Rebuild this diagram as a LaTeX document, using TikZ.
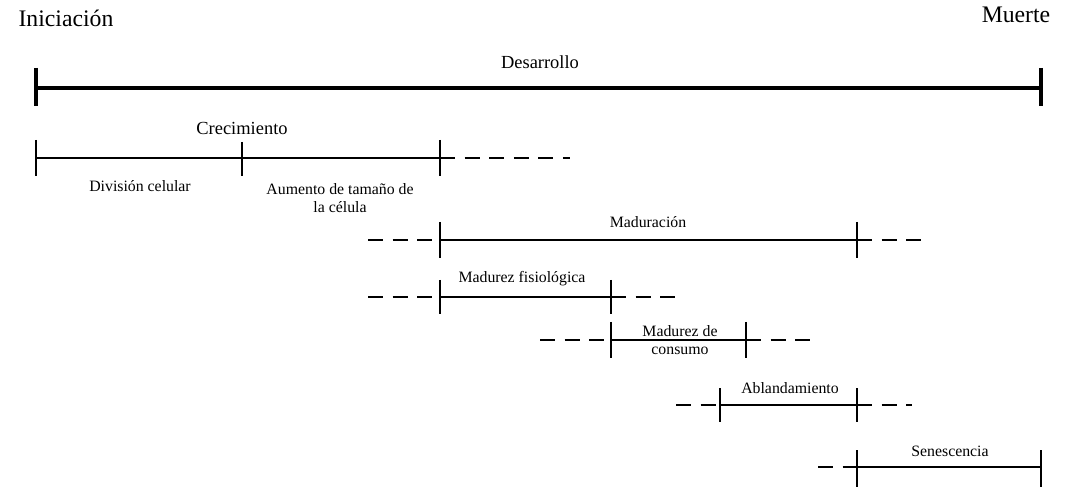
\documentclass[tikz,border=0pt]{standalone}
\usepackage{fontspec}
\setmainfont{Liberation Serif}
\begin{document}
\begin{tikzpicture}[x=0.02cm,y=-0.02cm,
  bar/.style={line width=2.3pt},
  thin/.style={line width=1.5pt},
  dsh/.style={line width=1.5pt,dash pattern=on 8.5pt off 5.5pt},
  big/.style={font=\fontsize{13.5}{15}\selectfont,inner sep=0pt},
  mid/.style={font=\fontsize{10.5}{12}\selectfont,inner sep=0pt},
  sml/.style={font=\fontsize{9}{10.5}\selectfont,inner sep=0pt,align=center}]
\useasboundingbox (0,0) rectangle (1067,499);
% Desarrollo
\node[big] (ini) at (66,18) {Iniciación};
\node[big] (mue) at (1016,15) {Muerte};
\node[mid] (des) at (540,62) {Desarrollo};
\coordinate (d1) at (36,88); \coordinate (d2) at (1041,88);
\draw[bar] (d1) -- (d2);
\draw[bar] (36,68) -- (36,106); \draw[bar] (1041,68) -- (1041,106);
% Crecimiento
\node[mid] (cre) at (242,128) {Crecimiento};
\coordinate (c1) at (36,158); \coordinate (c2) at (242,158); \coordinate (c3) at (440,158); \coordinate (c4) at (570,158);
\draw[thin] (c1) -- (c3);
\draw[thin] (36,140) -- (36,176); \draw[thin] (242,142) -- (242,176); \draw[thin] (440,140) -- (440,176);
\draw[dsh] (c3) -- (c4);
\node[sml] (div) at (140,186) {División celular};
\node[sml] (aum) at (340,198) {Aumento de tamaño de\\la célula};
% Maduracion
\node[sml] (mad) at (648,222) {Maduración};
\coordinate (m0) at (368,240); \coordinate (m1) at (440,240); \coordinate (m2) at (857,240); \coordinate (m3) at (928,240);
\draw[thin] (m1) -- (m2);
\draw[thin] (440,222) -- (440,258); \draw[thin] (857,222) -- (857,258);
\draw[dsh] (m0) -- (m1); \draw[dsh] (m2) -- (m3);
% Madurez fisiologica
\node[sml] (fis) at (522,279) {Madurez fisiológica};
\coordinate (f0) at (368,297); \coordinate (f1) at (440,297); \coordinate (f2) at (611,297); \coordinate (f3) at (682,297);
\draw[thin] (f1) -- (f2);
\draw[thin] (440,280) -- (440,314); \draw[thin] (611,280) -- (611,314);
\draw[dsh] (f0) -- (f1); \draw[dsh] (f2) -- (f3);
% Madurez de consumo
\node[sml] (con) at (680,340) {Madurez de\\consumo};
\coordinate (k0) at (540,340); \coordinate (k1) at (611,340); \coordinate (k2) at (746,340); \coordinate (k3) at (818,340);
\draw[thin] (k1) -- (k2);
\draw[thin] (611,322) -- (611,358); \draw[thin] (746,322) -- (746,358);
\draw[dsh] (k0) -- (k1); \draw[dsh] (k2) -- (k3);
% Ablandamiento
\node[sml] (abl) at (790,388) {Ablandamiento};
\coordinate (a0) at (676,405); \coordinate (a1) at (720,405); \coordinate (a2) at (857,405); \coordinate (a3) at (912,405);
\draw[thin] (a1) -- (a2);
\draw[thin] (720,388) -- (720,422); \draw[thin] (857,388) -- (857,422);
\draw[dsh] (a0) -- (a1); \draw[dsh] (a2) -- (a3);
% Senescencia
\node[sml] (sen) at (950,451) {Senescencia};
\coordinate (s0) at (818,467); \coordinate (s1) at (857,467); \coordinate (s2) at (1041,467);
\draw[thin] (s1) -- (s2);
\draw[thin] (857,450) -- (857,487); \draw[thin] (1041,450) -- (1041,487);
\draw[dsh] (s0) -- (s1);
\end{tikzpicture}
\end{document}
